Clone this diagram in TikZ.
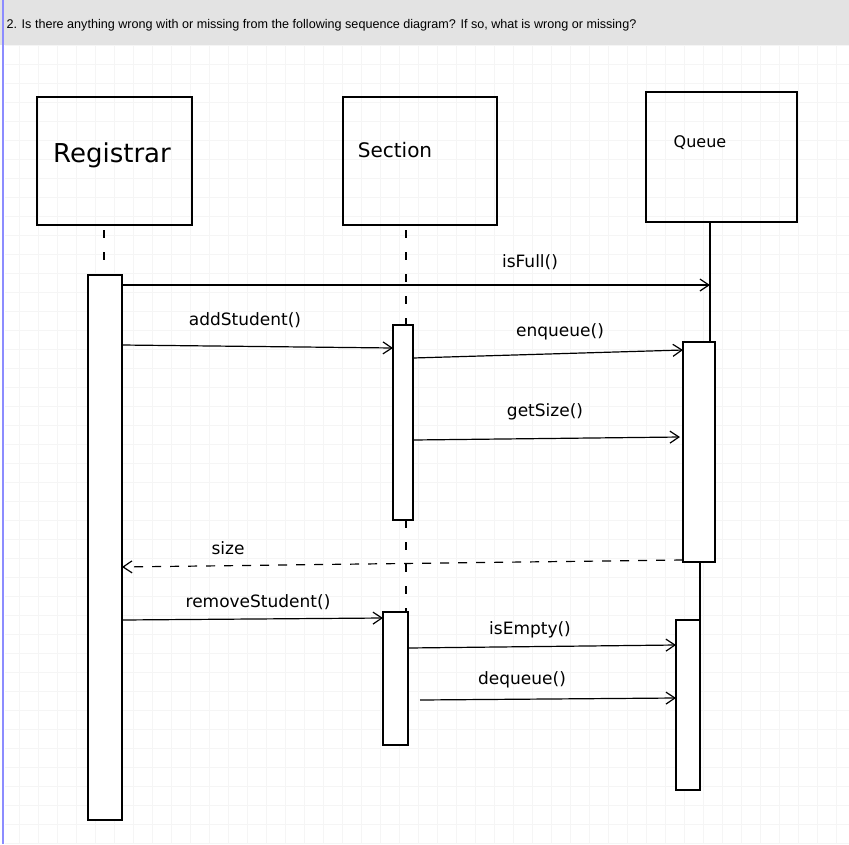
\documentclass[tikz,border=0pt]{standalone}
\usepackage{fontspec}
\setmainfont{Liberation Sans}
\newfontfamily\hand{DejaVu Sans}
\usetikzlibrary{arrows.meta}
\begin{document}
\begin{tikzpicture}[x=1pt,y=-1pt,
  obj/.style={draw,line width=1.5pt},
  act/.style={draw,line width=1.3pt,fill=white},
  msg/.style={line width=1.2pt,-{Straight Barb[length=9pt,width=12pt]}},
  ret/.style={msg,dashed,dash pattern=on 9pt off 9pt},
  life/.style={line width=1.2pt,dash pattern=on 8pt off 14pt},
  lbl/.style={font=\hand\fontsize{17}{17}\selectfont},
  hdr/.style={font=\fontsize{12.6}{14}\selectfont,anchor=west}]
\useasboundingbox (0,0) rectangle (849,844);
\fill[gray!22] (0,0) rectangle (849,45);
\draw[blue!45,line width=1.5pt] (3,0) -- (3,844);
\draw[gray!8,line width=0.6pt,step=19pt,shift={(0,45)}] (5,0) grid (849,799);
\node[hdr] (h) at (3,25) {2. Is there anything wrong with or missing from the following sequence diagram? If so, what is wrong or missing?};
% objects
\draw[obj] (37,97) rectangle (192,225);
\draw[obj] (343,97) rectangle (497,225);
\draw[obj] (646,92) rectangle (797,222);
\node[font=\hand\fontsize{26}{26}\selectfont] (r) at (112,155) {Registrar};
\node[font=\hand\fontsize{20}{20}\selectfont] (s) at (395,150) {Section};
\node[font=\hand\fontsize{16}{16}\selectfont] (q) at (700,143) {Queue};
% lifelines
\draw[life] (104,230) -- (104,272);
\draw[life] (406,230) -- (406,325);
\draw[line width=1.2pt] (710,222) -- (710,342);
\draw[life] (406,520) -- (406,612);
\draw[line width=1.2pt] (700,562) -- (700,620);
% activations
\draw[act] (88,275) rectangle (122,820);
\draw[act] (393,325) rectangle (413,520);
\draw[act] (383,612) rectangle (408,745);
\draw[act] (683,342) rectangle (715,562);
\draw[act] (676,620) rectangle (700,790);
% messages
\coordinate (m1a) at (122,285); \coordinate (m1b) at (710,285);
\draw[msg] (m1a) -- (m1b);
\node[lbl] (l1) at (530,262) {isFull()};
\coordinate (m2a) at (122,345); \coordinate (m2b) at (393,348);
\draw[msg] (m2a) -- (m2b);
\node[lbl] (l2) at (245,320) {addStudent()};
\coordinate (m3a) at (413,358); \coordinate (m3b) at (683,350);
\draw[msg] (m3a) -- (m3b);
\node[lbl] (l3) at (560,332) {enqueue()};
\coordinate (m4a) at (413,440); \coordinate (m4b) at (680,437);
\draw[msg] (m4a) -- (m4b);
\node[lbl] (l4) at (545,412) {getSize()};
\coordinate (m5a) at (683,560); \coordinate (m5b) at (122,567);
\draw[ret] (m5a) -- (m5b);
\node[lbl] (l5) at (228,548) {size};
\coordinate (m6a) at (122,620); \coordinate (m6b) at (383,618);
\draw[msg] (m6a) -- (m6b);
\node[lbl] (l6) at (258,602) {removeStudent()};
\coordinate (m7a) at (408,648); \coordinate (m7b) at (676,645);
\draw[msg] (m7a) -- (m7b);
\node[lbl] (l7) at (530,630) {isEmpty()};
\coordinate (m8a) at (420,700); \coordinate (m8b) at (676,698);
\draw[msg] (m8a) -- (m8b);
\node[lbl] (l8) at (522,680) {dequeue()};
\end{tikzpicture}
\end{document}
